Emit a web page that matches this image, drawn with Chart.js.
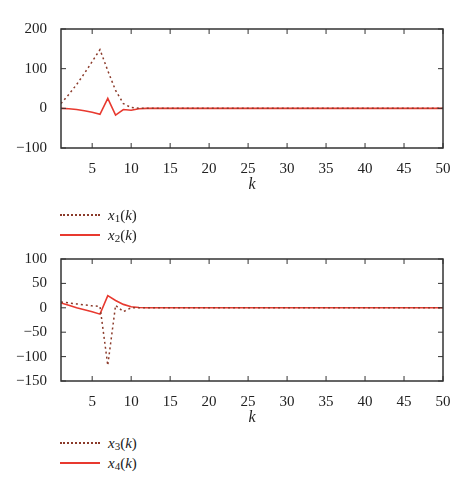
<!DOCTYPE html>
<html><head>
<script src="https://cdn.jsdelivr.net/npm/chart.js@4"></script>
<style>
body{margin:0;background:#fff;width:474px;height:493px;position:relative;font-family:'Liberation Serif',serif;}
.box{position:absolute;left:0;width:474px;}
.legend{position:absolute;left:60px;font-size:15px;color:#222;line-height:20px;}
.legend div{display:flex;align-items:center;}
.legend span.l{display:inline-block;width:40px;margin-right:8px;}
sub{font-size:11px;position:relative;top:3px;vertical-align:baseline;}
</style></head>
<body>
<div class="box" style="top:0;height:198px"><canvas id="c1"></canvas></div>
<div class="box" style="top:230px;height:201px"><canvas id="c2"></canvas></div>
<div class="legend" style="top:205px">
 <div><span class="l" style="border-top:2px dotted #8b3a2a"></span><i>x</i><sub>1</sub>(<i>k</i>)</div>
 <div><span class="l" style="border-top:2px solid #e8392f"></span><i>x</i><sub>2</sub>(<i>k</i>)</div>
</div>
<div class="legend" style="top:433px">
 <div><span class="l" style="border-top:2px dotted #8b3a2a"></span><i>x</i><sub>3</sub>(<i>k</i>)</div>
 <div><span class="l" style="border-top:2px solid #e8392f"></span><i>x</i><sub>4</sub>(<i>k</i>)</div>
</div>
<script>
// data
const k = Array.from({length: 50}, (_, i) => i + 1);
const x1Head = [12, 35, 60, 88, 118, 148, 95, 45, 12, 2, 0];
const x2Head = [0, -1, -3, -6, -10, -15, 25, -17, -3, -5, -1, 0];
const x3Head = [12, 10, 8, 6, 4, 3, -118, 5, -8, 0, 0];
const x4Head = [10, 5, 0, -4, -8, -13, 25, 15, 7, 2, 0.5, 0];
const xTicks = [5, 10, 15, 20, 25, 30, 35, 40, 45, 50];
const yTicksTop = [-100, 0, 100, 200];
const yTicksBottom = [-150, -100, -50, 0, 50, 100];

const pad = arr => k.map((_, i) => i < arr.length ? arr[i] : 0);

const framePlugin = {
  id: 'frame',
  afterDraw(chart) {
    const {ctx, chartArea: a, scales} = chart;
    ctx.save();
    ctx.strokeStyle = '#333';
    ctx.lineWidth = 1.5;
    ctx.strokeRect(a.left, a.top, a.right - a.left, a.bottom - a.top);
    ctx.lineWidth = 1;
    scales.x.ticks.forEach(t => {
      const px = scales.x.getPixelForValue(t.value);
      ctx.beginPath();
      ctx.moveTo(px, a.bottom); ctx.lineTo(px, a.bottom - 5);
      ctx.moveTo(px, a.top); ctx.lineTo(px, a.top + 5);
      ctx.stroke();
    });
    scales.y.ticks.forEach(t => {
      const py = scales.y.getPixelForValue(t.value);
      ctx.beginPath();
      ctx.moveTo(a.left, py); ctx.lineTo(a.left + 5, py);
      ctx.moveTo(a.right, py); ctx.lineTo(a.right - 5, py);
      ctx.stroke();
    });
    ctx.restore();
  }
};

function makeChart(id, dotted, solid, yMin, yMax, yTicks) {
  new Chart(document.getElementById(id), {
    type: 'line',
    data: {
      labels: k,
      datasets: [
        {data: pad(dotted), borderColor: '#8b3a2a', borderWidth: 1.5, borderDash: [2, 3], pointRadius: 0, tension: 0},
        {data: pad(solid), borderColor: '#e8392f', borderWidth: 1.6, pointRadius: 0, tension: 0}
      ]
    },
    options: {
      responsive: true, maintainAspectRatio: false, animation: false,
      layout: {padding: {top: 29, right: 31, left: 4}},
      plugins: {legend: {display: false}, tooltip: {enabled: false}},
      scales: {
        x: {
          type: 'linear', min: 1, max: 50,
          afterBuildTicks: s => { s.ticks = xTicks.map(v => ({value: v})); },
          afterFit: s => { s.height = 50; },
          grid: {display: false}, border: {display: false},
          ticks: {color: '#222', font: {family: 'Liberation Serif', size: 15}, maxRotation: 0, padding: 4},
          title: {display: true, text: 'k', color: '#222', font: {family: 'Liberation Serif', size: 16, style: 'italic'}, padding: {top: 2}}
        },
        y: {
          min: yMin, max: yMax,
          afterBuildTicks: s => { s.ticks = yTicks.map(v => ({value: v})); },
          afterFit: s => { s.width = 57; },
          grid: {display: false}, border: {display: false},
          ticks: {color: '#222', font: {family: 'Liberation Serif', size: 15}, padding: 6,
            callback: v => v < 0 ? '\u2212' + Math.abs(v) : v}
        }
      }
    },
    plugins: [framePlugin]
  });
}

makeChart('c1', x1Head, x2Head, -100, 200, yTicksTop);
makeChart('c2', x3Head, x4Head, -150, 100, yTicksBottom);
</script>
</body></html>
